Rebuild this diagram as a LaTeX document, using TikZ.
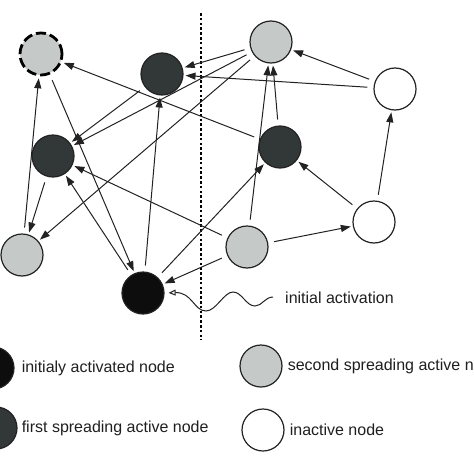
\documentclass[tikz,border=0pt]{standalone}
\usepackage{fontspec}
\setmainfont{Liberation Sans}
\usepackage{xcolor}
\usetikzlibrary{positioning,arrows.meta}
\definecolor{darknode}{HTML}{323737}
\definecolor{graynode}{HTML}{C5CAC8}
\definecolor{edgecol}{HTML}{222222}

\begin{document}
\begin{tikzpicture}[x=1pt,y=-1pt,
every node/.style={font=\fontsize{16}{19}\selectfont,text=black!88},
place/.style={circle,draw=edgecol,line width=1.2pt,
inner sep=0pt,minimum size=42pt},
initnode/.style={place,fill=black!95},
firstnode/.style={place,fill=darknode},
secondnode/.style={place,fill=graynode},
inactnode/.style={place,fill=white},
link/.style={->,draw=edgecol,line width=1pt,shorten <=6pt,shorten >=2pt},
>={Triangle[length=10pt,width=7pt]}]
\useasboundingbox (0,0) rectangle (474,474);
\clip (0,0) rectangle (474,474);
% divider
\coordinate (cuttop) at (201,13);
\coordinate (cutbot) at (201,340);
\draw[line width=2.6pt,dash pattern=on 2.5pt off 2.3pt] (cuttop) -- (cutbot);
% nodes
\node[secondnode,draw=black,line width=2.8pt,dash pattern=on 10pt off 4pt] (A) at (41,54) {};
\node[firstnode] (B) at (162,74) {};
\node[firstnode] (C) at (53,156) {};
\node[secondnode] (D) at (22,255) {};
\node[initnode] (E) at (143,293) {};
\node[secondnode] (F) at (247,247) {};
\node[secondnode] (G) at (271,42) {};
\node[inactnode] (H) at (395,89) {};
\node[firstnode] (I) at (280,147) {};
\node[inactnode] (J) at (374,222) {};
% links
\draw[link] (G) -- (B);
\draw[link] (H) -- (B);
\draw[link] (E) -- (B);
\draw[link] (B) -- (C);
\draw[link] (G) -- (C);
\draw[link] (F) -- (C);
\draw[link] (E) -- (C);
\draw[link] (C) -- (D);
\draw[link] (G) -- (D);
\draw[link] (D) -- (A);
\draw[link] (I) -- (A);
\draw[link] (A) -- (E);
\draw[link] (F) -- (E);
\draw[link] (E) -- (I);
\draw[link] (J) -- (I);
\draw[link] (F) -- (G);
\draw[link] (I) -- (G);
\draw[link] (H) -- (G);
\draw[link] (J) -- (H);
\draw[link] (F) -- (J);
% initial activation
\node[anchor=west,inner sep=0pt] (initlbl) at (285,298) {initial activation};
\coordinate (wavestart) at (273,297);
\draw[draw=edgecol,line width=1pt,shorten >=4pt,-{Triangle[open,length=7pt,width=6pt]}]
(wavestart) .. controls (265,297) and (262,306) .. (255,306)
.. controls (246,306) and (242,292) .. (233,292)
.. controls (224,292) and (216,311) .. (206,311)
.. controls (194,311) and (192,292) .. (E.east);
% legend
\node[initnode] (lgInit) at (-7,368) {};
\node[inner sep=0pt,right=7pt of lgInit] (lgInitTxt) {initialy activated node};
\node[firstnode] (lgFirst) at (-4,428) {};
\node[inner sep=0pt,right=4pt of lgFirst] (lgFirstTxt) {first spreading active node};
\node[secondnode] (lgSecond) at (261,366) {};
\node[inner sep=0pt,right=5pt of lgSecond] (lgSecondTxt) {second spreading active node};
\node[inactnode] (lgInact) at (263,430) {};
\node[inner sep=0pt,right=5pt of lgInact] (lgInactTxt) {inactive node};
\end{tikzpicture}
\end{document}
